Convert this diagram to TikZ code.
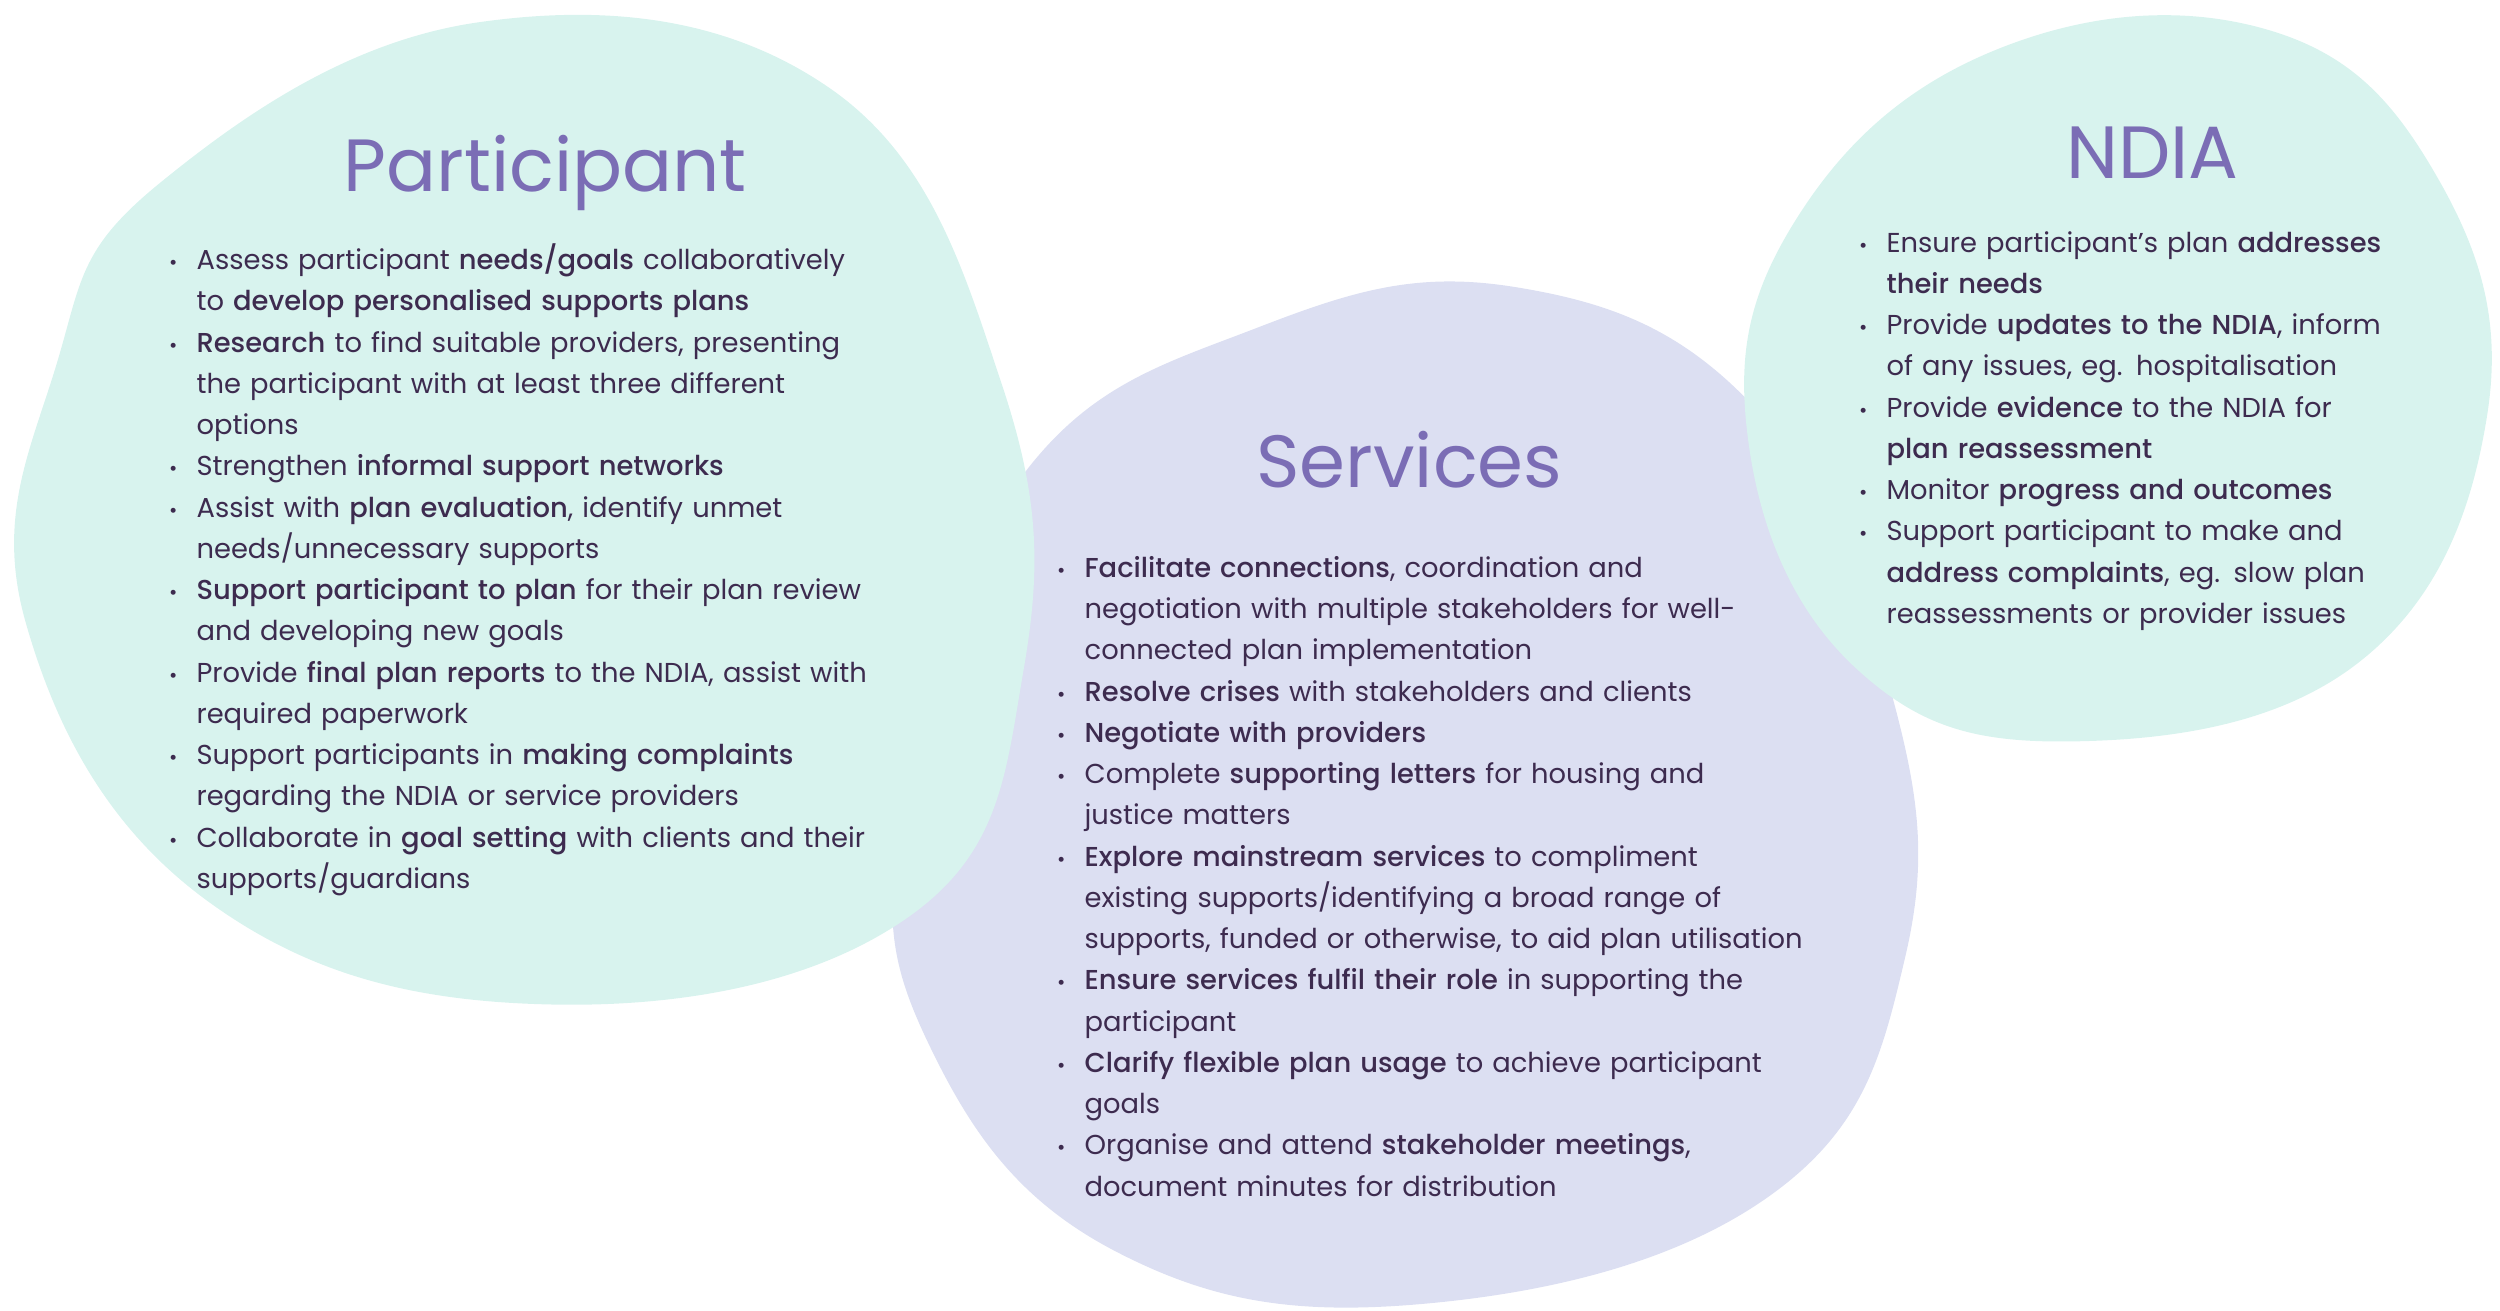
\documentclass[tikz,border=0pt]{standalone}
\usepackage{fontspec}
\setmainfont{Poppins}[BoldFont={Poppins Medium}]
\usepackage{enumitem}
\definecolor{mint}{HTML}{D8F3EE}
\definecolor{lav}{HTML}{DCDFF2}
\definecolor{ttl}{HTML}{7B6DB5}
\definecolor{txt}{HTML}{3D2B4F}
\tikzset{
 blob/.style={draw=none,fill=#1},
 ttlnode/.style={anchor=base,text=ttl,font=\fontsize{33}{36}\selectfont,inner sep=0},
 listnode/.style={anchor=north west,inner sep=0,text=txt,text width=#1,font=\fontsize{12.2}{18.4}\selectfont}
}
\newenvironment{blist}{\begin{itemize}[leftmargin=5.5mm,labelsep=3mm,itemsep=0pt,topsep=0pt,parsep=0pt,partopsep=0pt,label={\small\textbullet}]}{\end{itemize}}
\begin{document}
\begin{tikzpicture}[x=0.025cm,y=-0.025cm]
\useasboundingbox (0,0) rectangle (1568,822);
\fill[lav] plot[smooth cycle,tension=0.7] coordinates {(640,300) (790,205) (950,180) (1100,255) (1185,430) (1195,600) (1110,750) (890,818) (700,785) (585,660) (565,510)};
\fill[mint] plot[smooth cycle,tension=0.7] coordinates {(100,115) (300,14) (520,55) (628,240) (642,420) (570,575) (345,630) (130,565) (16,390) (35,230)};
\fill[mint] plot[smooth cycle,tension=0.7] coordinates {(1125,140) (1250,32) (1420,18) (1528,110) (1560,260) (1480,415) (1300,465) (1165,420) (1097,280)};
\node[ttlnode] (tp) at (342,120) {Participant};
\node[ttlnode] (ts) at (884,306) {Services};
\node[ttlnode] (tn) at (1350,112) {NDIA};
\node[listnode=125mm] (lp) at (101,143) {\begin{blist}
\item Assess participant \textbf{needs/goals} collaboratively\newline to \textbf{develop personalised supports plans}
\item \textbf{Research} to find suitable providers, presenting\newline the participant with at least three different\newline options
\item Strengthen \textbf{informal support networks}
\item Assist with \textbf{plan evaluation}, identify unmet\newline needs/unnecessary supports
\item \textbf{Support participant to plan} for their plan review\newline and developing new goals
\item Provide \textbf{final plan reports} to the NDIA, assist with\newline required paperwork
\item Support participants in \textbf{making complaints}\newline regarding the NDIA or service providers
\item Collaborate in \textbf{goal setting} with clients and their\newline supports/guardians
\end{blist}};
\node[listnode=135mm] (ls) at (658,336) {\begin{blist}
\item \textbf{Facilitate connections}, coordination and\newline negotiation with multiple stakeholders for well-\newline connected plan implementation
\item \textbf{Resolve crises} with stakeholders and clients
\item \textbf{Negotiate with providers}
\item Complete \textbf{supporting letters} for housing and\newline justice matters
\item \textbf{Explore mainstream services} to compliment\newline existing supports/identifying a broad range of\newline supports, funded or otherwise, to aid plan utilisation
\item \textbf{Ensure services fulfil their role} in supporting the\newline participant
\item \textbf{Clarify flexible plan usage} to achieve participant\newline goals
\item Organise and attend \textbf{stakeholder meetings},\newline document minutes for distribution
\end{blist}};
\node[listnode=100mm] (ln) at (1161,132) {\begin{blist}
\item Ensure participant's plan \textbf{addresses}\newline \textbf{their needs}
\item Provide \textbf{updates to the NDIA}, inform\newline of any issues, eg. hospitalisation
\item Provide \textbf{evidence} to the NDIA for\newline \textbf{plan reassessment}
\item Monitor \textbf{progress and outcomes}
\item Support participant to make and\newline \textbf{address complaints}, eg. slow plan\newline reassessments or provider issues
\end{blist}};
\end{tikzpicture}
\end{document}
